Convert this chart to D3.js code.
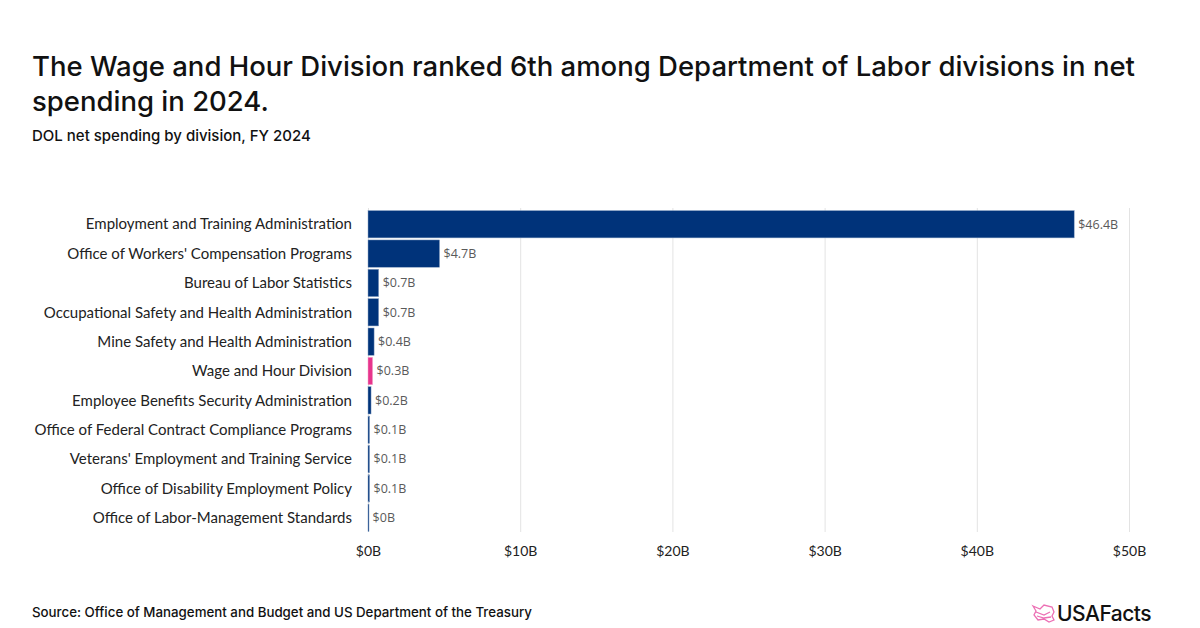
<!DOCTYPE html>
<html>
<head>
<meta charset="utf-8">
<script src="https://cdn.jsdelivr.net/npm/d3@7"></script>
<style>
  body { margin: 0; background: #fff; }
  svg text { font-family: "Inter", "Roboto", sans-serif; }
</style>
</head>
<body>
<div id="chart"></div>
<script>
// Chart data
var divisions = [
    "Employment and Training Administration",
    "Office of Workers' Compensation Programs",
    "Bureau of Labor Statistics",
    "Occupational Safety and Health Administration",
    "Mine Safety and Health Administration",
    "Wage and Hour Division",
    "Employee Benefits Security Administration",
    "Office of Federal Contract Compliance Programs",
    "Veterans' Employment and Training Service",
    "Office of Disability Employment Policy",
    "Office of Labor-Management Standards"
];
var spending = [46.4, 4.7, 0.7, 0.7, 0.4, 0.3, 0.2, 0.1, 0.1, 0.1, 0.04]; // billions
var highlight = "Wage and Hour Division";
var xTicks = [0, 10, 20, 30, 40, 50];

function init() {
    var w = 1200;
    var h = 628;
    var left = 368, right = 1129;
    var top = 210, bottom = 532;

    var dataset = divisions.map(function(d, i) { return { name: d, value: spending[i] }; });

    var svg = d3.select("#chart")
        .append("svg")
        .attr("width", w)
        .attr("height", h);

    // Title and subtitle
    svg.append("text")
        .attr("x", 32).attr("y", 76)
        .style("font-size", "27.5px").style("font-weight", 500)
        .attr("fill", "#111")
        .text("The Wage and Hour Division ranked 6th among Department of Labor divisions in net");
    svg.append("text")
        .attr("x", 32).attr("y", 111)
        .style("font-size", "27.5px").style("font-weight", 500)
        .attr("fill", "#111")
        .text("spending in 2024.");
    svg.append("text")
        .attr("x", 32).attr("y", 141)
        .style("font-size", "15px").style("font-weight", 500)
        .attr("fill", "#111")
        .text("DOL net spending by division, FY 2024");

    var xScale = d3.scaleLinear()
        .domain([0, 50])
        .range([left, right]);

    var yScale = d3.scaleBand()
        .domain(divisions)
        .range([top, bottom])
        .paddingInner(0.07)
        .paddingOuter(0.02);

    // Grid lines
    svg.append("g")
        .selectAll("line")
        .data(xTicks)
        .enter()
        .append("line")
        .attr("x1", function(d) { return xScale(d) + 0.5; })
        .attr("x2", function(d) { return xScale(d) + 0.5; })
        .attr("y1", 208)
        .attr("y2", 532)
        .attr("stroke", "#e3e3e3")
        .attr("stroke-width", 1);

    // Bars
    svg.append("g")
        .selectAll("rect")
        .data(dataset)
        .enter()
        .append("rect")
        .attr("x", xScale(0))
        .attr("y", function(d) { return yScale(d.name); })
        .attr("width", function(d) { return Math.max(1, xScale(d.value) - xScale(0)); })
        .attr("height", yScale.bandwidth())
        .attr("fill", function(d) { return d.name === highlight ? "#e7348c" : "#00337a"; })
        .attr("stroke", function(d) { return d.name === highlight ? "#f4a3c9" : "#8aa2c4"; })
        .attr("stroke-width", 0.5);

    // Value labels
    svg.append("g")
        .selectAll("text")
        .data(dataset)
        .enter()
        .append("text")
        .attr("x", function(d) { return xScale(d.value) + 4; })
        .attr("y", function(d) { return yScale(d.name) + yScale.bandwidth() / 2; })
        .attr("dy", "0.35em")
        .style("font-family", "'Liberation Sans Narrow', 'Open Sans', sans-serif")
        .style("font-size", "12.5px")
        .attr("fill", "#5a5a5a")
        .text(function(d) {
            var v = Math.round(d.value * 10) / 10;
            return v === 0 ? "$0B" : "$" + v.toFixed(1) + "B";
        });

    // Category labels
    svg.append("g")
        .selectAll("text")
        .data(dataset)
        .enter()
        .append("text")
        .attr("x", left - 16)
        .attr("y", function(d) { return yScale(d.name) + yScale.bandwidth() / 2; })
        .attr("dy", "0.35em")
        .attr("text-anchor", "end")
        .style("font-family", "Lato, sans-serif")
        .style("font-size", "15px")
        .attr("fill", "#222")
        .text(function(d) { return d.name; });

    // X axis
    var xAxis = d3.axisBottom()
        .scale(xScale)
        .tickValues(xTicks)
        .tickSize(0)
        .tickFormat(function(d) { return "$" + d + "B"; });

    var gx = svg.append("g")
        .attr("transform", "translate(0," + 543 + ")")
        .call(xAxis);
    gx.select(".domain").remove();
    gx.selectAll("text")
        .style("font-family", "Lato, sans-serif")
        .style("font-size", "14px")
        .attr("fill", "#222");

    // Source
    svg.append("text")
        .attr("x", 32).attr("y", 617)
        .style("font-size", "13.3px").style("font-weight", 500)
        .attr("fill", "#111")
        .text("Source: Office of Management and Budget and US Department of the Treasury");

    // Logo
    var logo = svg.append("g").attr("transform", "translate(1032,604)");
    logo.append("path")
        .attr("d", "M1,2 L8,5 L12,1 L20,3 L22,8 L20,12 L22,16 L17,18 L12,15 L6,16 L2,11 L4,7 Z M4,8 L12,11 L18,8 M5,12 L12,14 L19,13")
        .attr("fill", "none")
        .attr("stroke", "#ec6fb4")
        .attr("stroke-width", 1.3);
    svg.append("text")
        .attr("x", 1057).attr("y", 621)
        .style("font-size", "21px").style("font-weight", 500)
        .style("letter-spacing", "-0.5px")
        .attr("fill", "#111")
        .text("USAFacts");
}

window.onload = init;
</script>
</body>
</html>
